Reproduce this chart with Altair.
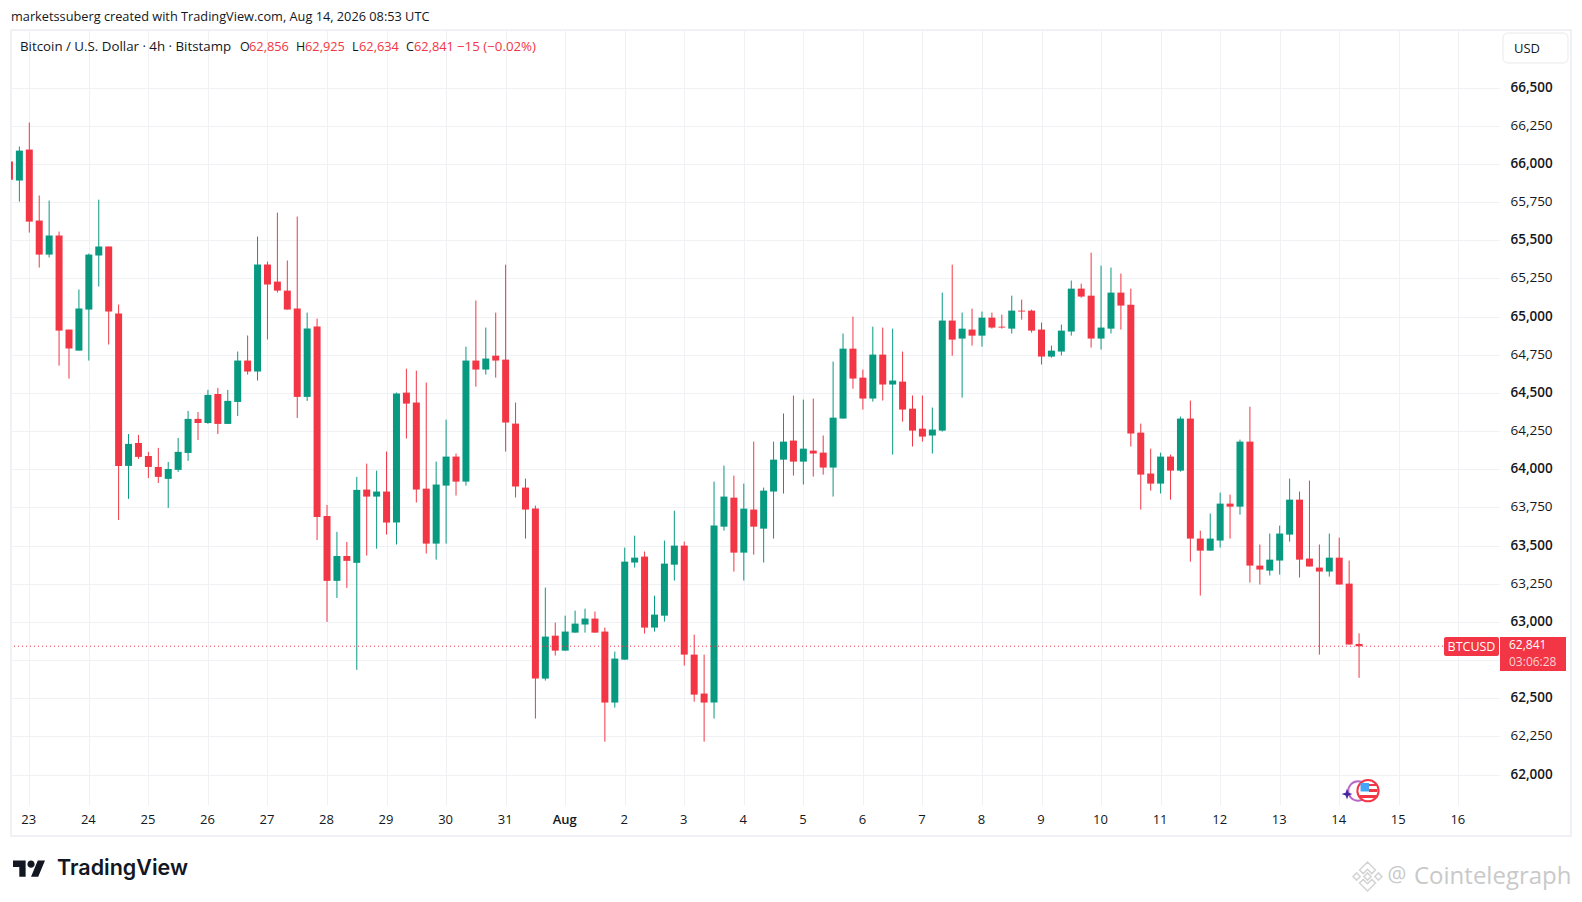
import altair as alt
import pandas as pd

GREEN = "#089981"
RED = "#F23645"
GRID = "#F0F1F4"
INK = "#131722"
FONT = "Open Sans"

# candle index: 0 = 23 Jul 00:00, six 4h candles a day
candle_index = list(range(-2, 135))
opens = [66015,65891,66094,65629,65406,65531,64915,64777,65046,65400,65459,65020,64022,64172,64087,64015,63937,63996,64107,64330,
         64303,64493,64297,64441,64712,64640,65341,65229,65170,65053,64474,64935,63694,63269,63432,63387,63867,63821,63854,63651,
         64502,64437,63873,63513,63893,64083,63919,64712,64653,64744,64718,64299,63880,63743,62629,62910,62812,62930,62983,63022,
         62937,62472,62753,63389,63428,62963,63041,63375,63500,62786,62531,62472,63624,63814,63454,63736,63611,63854,64063,64188,
         64050,64122,64109,64011,64332,64790,64600,64463,64751,64555,64574,64397,64266,64221,64253,64974,64856,64915,64875,64993,
         64934,64921,65039,65039,64915,64738,64771,64902,65183,65137,64856,64921,65157,65078,64240,63972,63906,64083,63991,64332,
         63546,63467,63533,63775,63755,64181,63369,63336,63402,63572,63801,63415,63356,63330,63421,63251,62856]
highs = [66015,66114,66271,65793,65760,65557,64915,65177,65413,65766,65459,65079,64231,64225,64114,64140,64048,64205,64382,64375,
         64520,64533,64520,64771,64876,65524,65360,65681,65367,65655,65026,64987,63766,63590,63524,63950,64037,63991,64116,64502,
         64659,64646,64568,64050,64325,64103,64803,65105,64928,65026,65340,64437,63939,63762,63225,62996,63041,63074,63087,63068,
         62963,62806,63487,63565,63461,63172,63533,63729,63526,62917,62786,63919,64024,63958,63906,64181,63880,64181,64365,64483,
         64456,64463,64221,64705,64889,65000,64653,64934,64928,64921,64771,64483,64483,64404,65157,65340,65026,65052,65033,65026,
         65013,65137,65111,65046,64961,64810,64948,65236,65216,65419,65334,65321,65282,65183,64299,64135,64109,64096,64345,64450,
         63598,63710,63847,63834,64194,64410,63507,63579,63631,63939,63854,63926,63507,63579,63552,63402,62925]
lows = [65897,65753,65550,65321,65387,64679,64594,64777,64712,65197,64817,63668,63806,64068,63943,63910,63747,63983,64055,64192,
        64297,64231,64297,64349,64620,64581,64850,65157,65046,64336,64448,63537,63000,63157,63223,62686,63435,63480,63572,63507,
        64201,63782,63448,63408,63513,63828,63893,64541,64620,64600,64116,63815,63546,62367,62616,62780,62812,62930,62930,62930,
        62216,62439,62753,63356,62924,62937,63002,63271,62714,62478,62216,62367,63598,63330,63271,63441,63389,63546,63841,63959,
        63900,63952,63965,63821,64332,64528,64391,64443,64450,64096,64312,64149,64181,64103,64247,64744,64469,64810,64803,64921,
        64921,64889,64980,64895,64686,64731,64745,64875,65124,64797,64784,64889,64915,64149,63736,63860,63841,63801,63985,63395,
        63173,63467,63487,63546,63703,63258,63245,63304,63310,63526,63291,63363,62786,63297,63245,62852,62634]
closes = [65897,66087,65622,65406,65531,64908,64791,65053,65406,65459,65033,64022,64166,64081,64015,63950,64002,64114,64330,64303,
          64487,64297,64448,64712,64640,65341,65210,65170,65046,64474,64922,63688,63269,63432,63400,63865,63821,63854,63651,64496,
          64430,63867,63513,63900,64083,63919,64712,64653,64725,64712,64306,63887,63736,62629,62904,62812,62937,62989,63022,62930,
          62472,62760,63395,63421,62963,63048,63382,63500,62786,62524,62472,63631,63821,63454,63742,63624,63860,64063,64181,64050,
          64135,64103,64011,64338,64790,64594,64463,64751,64555,64581,64391,64253,64214,64260,64974,64849,64921,64875,64993,64928,
          64928,65039,65033,64908,64738,64777,64908,65183,65131,64856,64928,65157,65072,64234,63965,63906,64083,63991,64332,63546,
          63467,63546,63775,63755,64181,63369,63343,63408,63579,63801,63408,63363,63330,63421,63245,62852,62841]
last_price = [62841]

price_ticks = [62000,62250,62500,62750,63000,63250,63500,63750,64000,64250,64500,64750,65000,65250,65500,65750,66000,66250,66500]
day_ticks = list(range(0, 150, 6))
day_labels = ["23","24","25","26","27","28","29","30","31","Aug","2","3","4","5","6","7","8","9","10","11","12","13","14","15","16"]

candles = pd.DataFrame({"i": candle_index, "o": opens, "h": highs, "l": lows, "c": closes})
candles["dir"] = ["up" if c >= o else "down" for o, c in zip(opens, closes)]

# plot pane occupies x 11..1499, y 30..805 of the page
PX0, PY0 = 11, 30
xscale = alt.Scale(domain=[-1.844, 148.1], nice=False, zero=False, padding=0)
yscale = alt.Scale(domain=[61801, 66877], nice=False, zero=False, padding=0)
colour = alt.Color("dir:N", scale=alt.Scale(domain=["up", "down"], range=[GREEN, RED]), legend=None)
one = alt.Data(values=[{"a": 1}])


def X(v):
    return alt.value(v - PX0)


def Y(v):
    return alt.value(v - PY0)


def text(s, x, y, size=13, color=INK, weight=400, align="left", font=FONT, opacity=1):
    return alt.Chart(alt.Data(values=[{"t": s}])).mark_text(
        fontSize=size, color=color, fontWeight=weight, align=align, baseline="middle", font=font, opacity=opacity
    ).encode(text="t:N", x=X(x), y=Y(y))


def box(x1, x2, y1, y2, **kw):
    return alt.Chart(one).mark_rect(**kw).encode(x=X(x1), x2=X(x2), y=Y(y1), y2=Y(y2))


def pt(x, y, size, **kw):
    return alt.Chart(one).mark_point(**kw).encode(x=X(x), y=Y(y), size=alt.value(size))


wick = alt.Chart(candles).mark_rule(strokeWidth=1, clip=True).encode(
    x=alt.X(
        "i:Q", scale=xscale, title=None,
        axis=alt.Axis(
            values=day_ticks,
            labelExpr="[" + ",".join(f"'{d}'" for d in day_labels) + "][datum.value/6]",
            grid=True, gridColor=GRID, gridWidth=1, domain=False, ticks=False,
            labelPadding=8, labelFontSize=13, labelColor=INK, labelFont=FONT, labelOffset=-1,
            labelFontWeight={"condition": {"test": "datum.value===54", "value": 600}, "value": 400},
            labelAngle=0, labelFlush=False, labelOverlap=False,
        ),
    ),
    y=alt.Y(
        "l:Q", scale=yscale, title=None,
        axis=alt.Axis(
            orient="right", values=price_ticks,
            labelExpr="datum.value===62750 ? '' : format(datum.value, ',.0f')",
            grid=True, gridColor=GRID, gridWidth=1, domain=False, ticks=False,
            labelPadding=11, labelFontSize=13.5, labelColor=INK, labelFont=FONT, labelOffset=-0.5,
            labelFontWeight={"condition": {"test": "datum.value%500===0", "value": 600}, "value": 400},
            labelOverlap=False, labelFlush=False,
        ),
    ),
    y2="h:Q",
    color=colour,
)
body = alt.Chart(candles).mark_bar(size=7, clip=True).encode(
    x=alt.X("i:Q", scale=xscale), y=alt.Y("o:Q", scale=yscale), y2="c:Q", color=colour
)
last_line = alt.Chart(pd.DataFrame({"p": last_price})).mark_rule(
    color=RED, strokeWidth=1, strokeDash=[1, 3]
).encode(y=alt.Y("p:Q", scale=yscale))

frame = box(11, 1571, 30, 836, fillOpacity=0, stroke=GRID, strokeWidth=2)
usd = box(1503, 1568, 33, 63, fill="white", stroke=GRID, strokeWidth=1.5, cornerRadius=5)

tv_logo = ("M-0.211 0.507H-0.606V-0.113H-1V-0.507H-0.211Z"
           "M0.577 0.507H0.127L0.549 -0.507H1Z"
           "M-0.098 -0.282a0.225 0.225 0 1 0 0.45 0a0.225 0.225 0 1 0 -0.45 0Z")
star = "M0 -1L0.25 -0.25L1 0L0.25 0.25L0 1L-0.25 0.25L-1 0L-0.25 -0.25Z"
watermark = ("M-1 0L-0.75 -0.25L-0.5 0L-0.75 0.25Z M1 0L0.75 -0.25L0.5 0L0.75 0.25Z"
             "M-0.25 0L0 -0.25L0.25 0L0 0.25Z"
             "M0 -1L0.55 -0.45L0.3 -0.2L0 -0.5L-0.3 -0.2L-0.55 -0.45Z"
             "M0 1L0.55 0.45L0.3 0.2L0 0.5L-0.3 0.2L-0.55 0.45Z")

layers = [
    frame, wick, body, last_line, usd,
    text("USD", 1514, 48.5, 13),
    text("marketssuberg created with TradingView.com, Aug 14, 2026 08:53 UTC", 11, 16.5, 12.76),
    text("Bitcoin / U.S. Dollar · 4h · Bitstamp", 20, 47, 13.3),
    text("O", 240, 47, 12.5), text("62,856", 249, 47, 12.8, RED),
    text("H", 296, 47, 12.5), text("62,925", 305, 47, 12.8, RED),
    text("L", 352, 47, 12.5), text("62,634", 359, 47, 12.8, RED),
    text("C", 406, 47, 12.5), text("62,841", 414, 47, 12.8, RED),
    text("−15 (−0.02%)", 457, 47, 13.3, RED),
    box(1444, 1499, 637, 656, fill=RED, cornerRadius=2),
    box(1500, 1566, 637, 671, fill=RED),
    text("BTCUSD", 1471.5, 646.5, 12.5, "white", align="center"),
    text("62,841", 1509, 645, 12, "white"),
    text("03:06:28", 1509, 661.5, 12, "#FBD0D4"),
    pt(1358, 791, 380, filled=False, stroke="#9C27B0", strokeWidth=2, shape="circle"),
    pt(1347, 794, 121, filled=True, fill="#4527A0", shape=star, opacity=1),
    pt(1368, 790.7, 452, filled=True, fill="white", stroke=RED, strokeWidth=2, shape="circle", opacity=1),
    box(1360.5, 1369, 783, 791.5, fill="#42A5F5"),
    box(1369, 1376, 784, 786, fill=RED),
    box(1369, 1377.5, 789, 792, fill=RED),
    box(1360, 1377.5, 795, 798, fill=RED),
    pt(29, 868.7, 1024, filled=True, fill=INK, shape=tv_logo, opacity=1),
    text("TradingView", 57, 869, 21.5, INK, 600, font="Inter"),
    pt(1367.5, 876.5, 841, filled=True, fill="white", stroke="#D4D4D4", strokeWidth=1.5, shape=watermark, opacity=1),
    text("@", 1397, 876, 21, "#C9C9C9", align="center"),
    text("Cointelegraph", 1414, 877, 24, "#C9C9C9"),
]

chart = alt.layer(*layers).properties(
    width=1488, height=775,
    padding={"left": 3, "top": 22, "right": 75, "bottom": 89},
    autosize=alt.AutoSizeParams(type="none"),
    background="white",
).configure_view(stroke=None)

chart.save("out.html", embed_options={"renderer": "svg", "actions": False})
